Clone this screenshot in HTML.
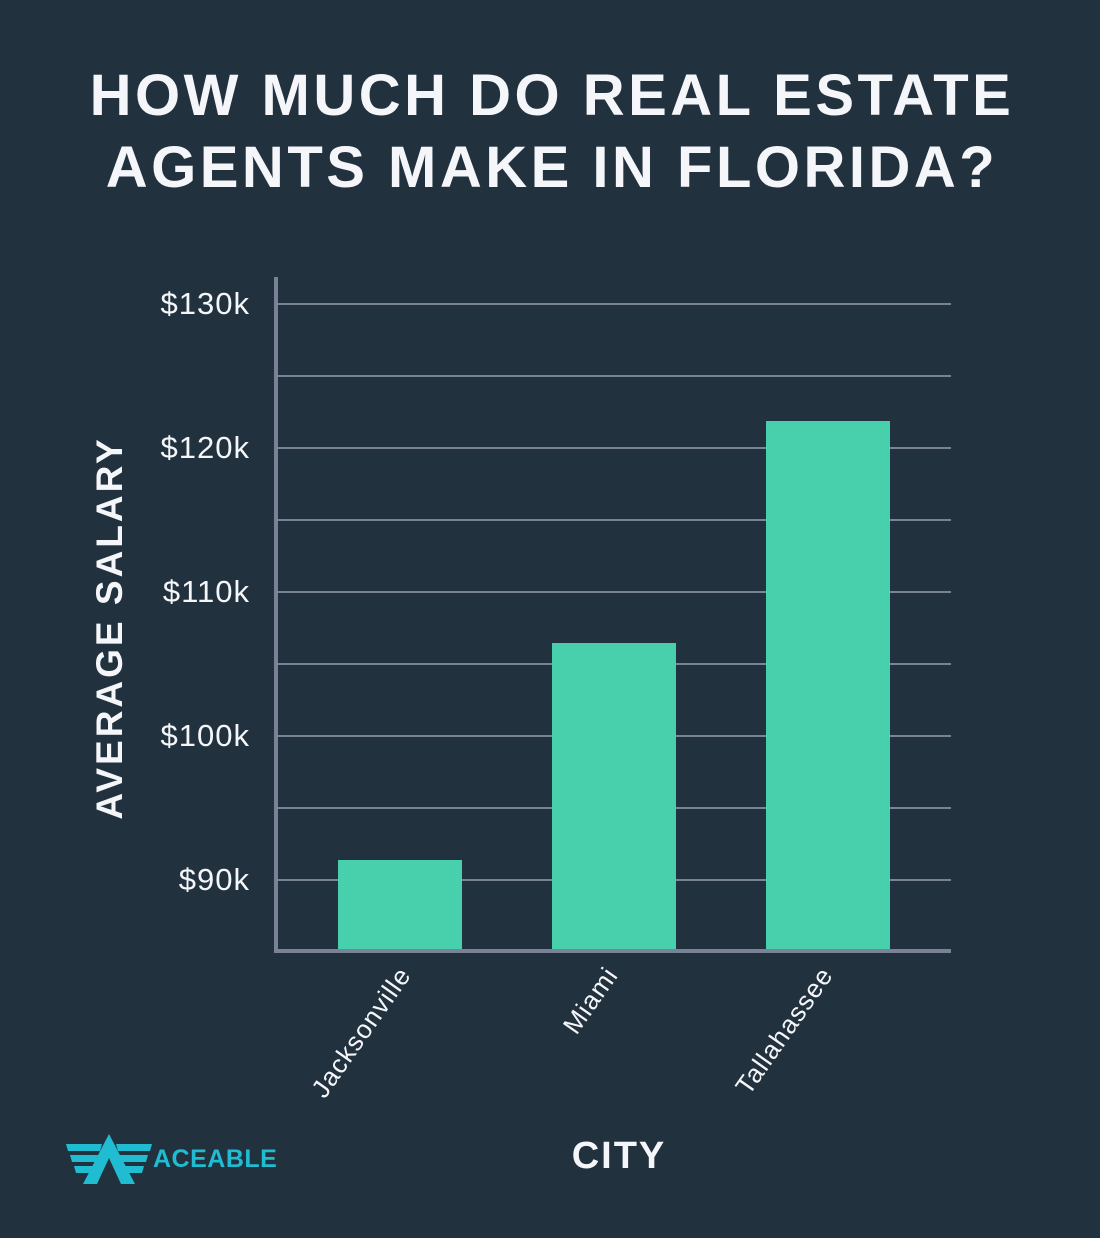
<!DOCTYPE html>
<html><head><style>
body{margin:0;background:#22313e;}
svg{display:block}
</style></head><body>
<svg width="1100" height="1238" xmlns="http://www.w3.org/2000/svg">
<rect width="1100" height="1238" fill="#22313e"/>
<g font-family="Liberation Sans, sans-serif" font-weight="bold" fill="#f4f6fa" font-size="58" text-anchor="middle" letter-spacing="3.5">
<text x="552" y="115">HOW MUCH DO REAL ESTATE</text>
<text x="552" y="187">AGENTS MAKE IN FLORIDA?</text>
</g>
<g stroke="#7a8296" stroke-width="2">
<line x1="278" x2="951" y1="304" y2="304"/><line x1="278" x2="951" y1="376" y2="376"/>
<line x1="278" x2="951" y1="448" y2="448"/><line x1="278" x2="951" y1="520" y2="520"/>
<line x1="278" x2="951" y1="592" y2="592"/><line x1="278" x2="951" y1="664" y2="664"/>
<line x1="278" x2="951" y1="736" y2="736"/><line x1="278" x2="951" y1="808" y2="808"/>
<line x1="278" x2="951" y1="880" y2="880"/>
</g>
<g fill="#48cfab">
<rect x="338" y="860" width="124" height="91"/>
<rect x="552" y="643" width="124" height="308"/>
<rect x="766" y="421" width="124" height="530"/>
</g>
<rect x="274" y="277" width="4" height="676" fill="#7a8296"/>
<rect x="274" y="949" width="677" height="4" fill="#7a8296"/>
<g font-family="Liberation Sans, sans-serif" fill="#f4f6fa" font-size="31" text-anchor="end" letter-spacing="1">
<text x="250" y="314">$130k</text><text x="250" y="458">$120k</text>
<text x="250" y="602">$110k</text><text x="250" y="746">$100k</text>
<text x="250" y="890">$90k</text>
</g>
<text transform="translate(122,628) rotate(-90)" font-family="Liberation Sans, sans-serif" font-weight="bold" font-size="37" fill="#f4f6fa" text-anchor="middle" letter-spacing="3">AVERAGE SALARY</text>
<g font-family="Liberation Sans, sans-serif" fill="#f4f6fa" font-size="26" text-anchor="end" letter-spacing="1">
<text transform="translate(412,975) rotate(-55)">Jacksonville</text>
<text transform="translate(619,975) rotate(-55)">Miami</text>
<text transform="translate(834,975) rotate(-55)">Tallahassee</text>
</g>
<text x="619" y="1168" font-family="Liberation Sans, sans-serif" font-weight="bold" font-size="38" fill="#f4f6fa" text-anchor="middle" letter-spacing="2">CITY</text>
<g fill="#1fbcd2">
<polygon points="66,1144 102,1144 100,1151 68,1151"/>
<polygon points="70,1155 98,1155 96,1162 72,1162"/>
<polygon points="74,1166 95,1166 93,1173 76,1173"/>
<polygon points="152,1144 116,1144 118,1151 150,1151"/>
<polygon points="148,1155 120,1155 122,1162 146,1162"/>
<polygon points="144,1166 123,1166 125,1173 142,1173"/>
<polygon points="109,1134 135,1184 121,1184 109,1158 97,1184 83,1184"/>
<text x="153" y="1167" font-family="Liberation Sans, sans-serif" font-weight="bold" font-size="25" letter-spacing="0.5">ACEABLE</text>
</g>
</svg>
</body></html>
